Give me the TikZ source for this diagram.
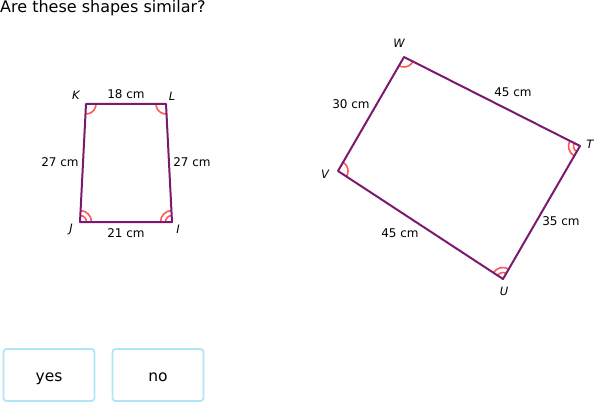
\documentclass[tikz,border=0pt]{standalone}
\usepackage{fontspec}
\setmainfont{DejaVu Sans}
\usetikzlibrary{angles}
\definecolor{edgepurple}{RGB}{122,26,110}
\definecolor{markred}{RGB}{255,88,88}
\definecolor{btnblue}{RGB}{174,230,248}
\newcommand\OneArc[3]{%
    \pic[draw=markred,line width=1.6pt,angle radius=10pt] {angle=#1--#2--#3};
}
\newcommand\TwoArcs[3]{%
    \pic[draw=markred,line width=1.6pt,angle radius=6.5pt] {angle=#1--#2--#3};
    \pic[draw=markred,line width=1.6pt,angle radius=11.5pt] {angle=#1--#2--#3};
}
\tikzset{
    side/.style={font=\fontsize{12}{14}\selectfont},
    vert/.style={font=\fontsize{11.5}{14}\selectfont\itshape},
    button/.style={draw=btnblue,line width=1.8pt,rounded corners=3pt,
        minimum width=91pt,minimum height=52pt,text height=13pt,text depth=0pt,
        font=\fontsize{15.5}{18}\selectfont}
}

\begin{document}
\begin{tikzpicture}[x=1pt,y=-1pt]
    \useasboundingbox (0,0) rectangle (596,403);
    \node[anchor=north west,inner sep=0pt,font=\fontsize{16}{19}\selectfont] (title) at (0,0) {Are these shapes similar?};
    % first shape
    \coordinate (K) at (86,104);
    \coordinate (L) at (166,104);
    \coordinate (I) at (172,222);
    \coordinate (J) at (80,222);
    \OneArc{J}{K}{L}
    \OneArc{K}{L}{I}
    \TwoArcs{L}{I}{J}
    \TwoArcs{I}{J}{K}
    \draw[edgepurple,line width=2pt,line join=round] (K) -- (L) -- (I) -- (J) -- cycle;
    \node[vert] (labK) at (76,95) {K};
    \node[vert] (labL) at (172,96) {L};
    \node[vert] (labI) at (178,229) {I};
    \node[vert] (labJ) at (71,229) {J};
    \node[side] (sKL) at (126,94) {18 cm};
    \node[side] (sLI) at (192,162) {27 cm};
    \node[side] (sIJ) at (126,233) {21 cm};
    \node[side] (sJK) at (60,162) {27 cm};
    % second shape
    \coordinate (W) at (404,57);
    \coordinate (T) at (580,146);
    \coordinate (U) at (503,279);
    \coordinate (V) at (338,171);
    \OneArc{V}{W}{T}
    \TwoArcs{W}{T}{U}
    \TwoArcs{T}{U}{V}
    \OneArc{U}{V}{W}
    \draw[edgepurple,line width=2pt,line join=round] (W) -- (T) -- (U) -- (V) -- cycle;
    \node[vert] (labW) at (399,43) {W};
    \node[vert] (labT) at (590,144) {T};
    \node[vert] (labU) at (504,291) {U};
    \node[vert] (labV) at (325,174) {V};
    \node[side] (sVW) at (351,104) {30 cm};
    \node[side] (sWT) at (513,92) {45 cm};
    \node[side] (sTU) at (561,221) {35 cm};
    \node[side] (sUV) at (400,233) {45 cm};
    % answers
    \node[button] (yes) at (49,375) {yes};
    \node[button] (no) at (158,375) {no};
\end{tikzpicture}
\end{document}
